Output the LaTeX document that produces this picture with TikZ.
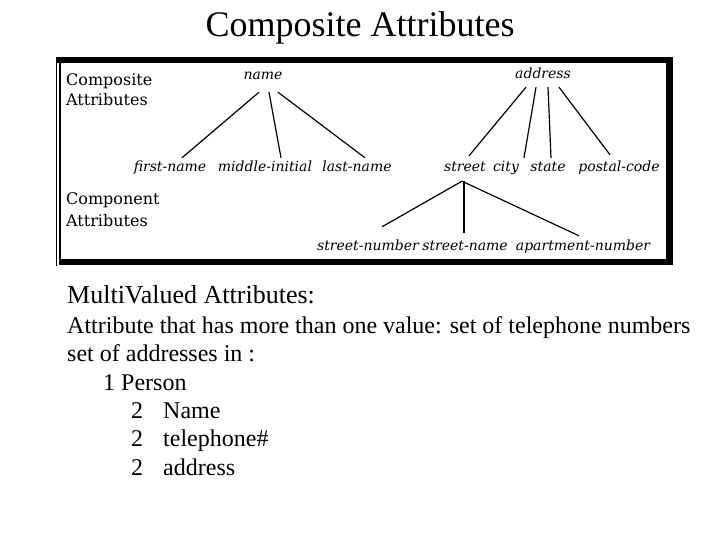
\documentclass[tikz,border=0pt]{standalone}
\usepackage{fontspec}
\setmainfont{Liberation Serif}
\newfontfamily\boxfont{DejaVu Serif}
\begin{document}
\begin{tikzpicture}[x=1pt,y=-1pt,
  boxlabel/.style={font=\boxfont\fontsize{16}{19}\selectfont, anchor=base west, inner sep=0pt},
  attr/.style={font=\boxfont\itshape\fontsize{14}{17}\selectfont, anchor=base, text height=10pt, text depth=3pt, inner xsep=1pt, inner ysep=4pt},
  parent/.style={attr, inner ysep=5pt},
  body/.style={font=\fontsize{24}{29}\selectfont, anchor=base west, inner sep=0pt},
  edge/.style={line width=1.2pt}]
\useasboundingbox (0,0) rectangle (720,540);
\fill[white] (0,0) rectangle (720,540);

% Title
\node[font=\fontsize{36}{43}\selectfont, anchor=base, inner sep=0pt] (title) at (360,37) {Composite Attributes};

% Frame of the picture
\fill (56,57) rectangle (673,63);
\fill (666,57) rectangle (673,265);
\fill (61,259) rectangle (673,265);
\fill (56,57) rectangle (57.2,266);
\fill (59,57) rectangle (61,265);

% Labels at the left
\node[boxlabel] (comp1) at (66,86) {Composite};
\node[boxlabel] (comp2) at (66,106) {Attributes};
\node[boxlabel] (cpt1) at (66,205) {Component};
\node[boxlabel] (cpt2) at (66,226) {Attributes};

% name and its parts
\node[parent, inner ysep=9pt] (name) at (263,80) {name};
\node[attr] (first) at (170,172) {first-name};
\node[attr] (middle) at (265,172) {middle-initial};
\node[attr] (last) at (357,172) {last-name};

% address and its parts
\node[parent] (address) at (543,79) {address};
\node[parent, inner ysep=6pt] (street) at (465,172) {street};
\node[attr] (city) at (506,172) {city};
\node[attr] (state) at (548,172) {state};
\node[attr] (postal) at (619,172) {postal-code};

\node[attr] (snumber) at (368,250) {street-number};
\node[attr] (sname) at (465,250) {street-name};
\node[attr] (apt) at (583,250) {apartment-number};

% Connectors
\draw[edge] ([xshift=-4pt]name.south) -- ([xshift=12pt]first.north);
\draw[edge] ([xshift=6pt]name.south) -- ([xshift=16pt]middle.north);
\draw[edge] ([xshift=15pt]name.south) -- ([xshift=8pt]last.north);

\draw[edge] ([xshift=-17pt]address.south) -- ([xshift=4pt]street.north);
\draw[edge] ([xshift=-7pt]address.south) -- ([xshift=18pt]city.north);
\draw[edge] ([xshift=5pt]address.south) -- ([xshift=3pt]state.north);
\draw[edge] ([xshift=16pt]address.south) -- ([xshift=-9pt,yshift=3pt]postal.north);

\draw[edge] ([xshift=-3pt]street.south) -- ([xshift=14pt,yshift=9pt]snumber.north);
\draw[edge] ([xshift=-1pt]street.south) -- ([xshift=-1pt,yshift=3pt]sname.north);
\draw[edge] ([xshift=-3pt]street.south) -- ([xshift=-4pt]apt.north);

% Text below
\node[body, font=\fontsize{26}{31}\selectfont] (multi) at (67,303) {MultiValued Attributes:};
\node[body] (line1) at (67,333) {Attribute that has more than one value: set of telephone numbers};
\node[body] (line2) at (67,361) {set of addresses in :};
\node[body] (person) at (103,390) {1 Person};
\node[body] (n1) at (131,418) {2};
\node[body] (pname) at (163,418) {Name};
\node[body] (n2) at (131,446) {2};
\node[body] (ptel) at (163,446) {telephone\#};
\node[body] (n3) at (131,475) {2};
\node[body] (paddr) at (163,475) {address};
\end{tikzpicture}
\end{document}
